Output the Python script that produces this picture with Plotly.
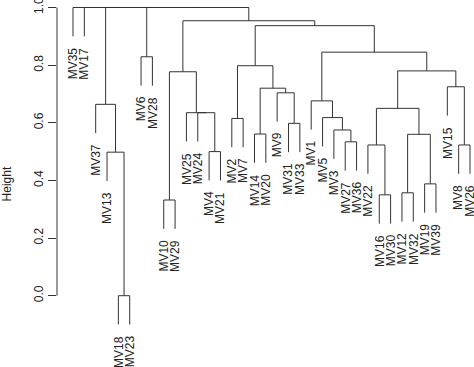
import plotly.graph_objects as go

# Leaf labels in drawing order
labels = ["MV35", "MV17", "MV37", "MV13", "MV18", "MV23", "MV6", "MV28",
          "MV10", "MV29", "MV25", "MV24", "MV4", "MV21", "MV2", "MV7",
          "MV14", "MV20", "MV9", "MV31", "MV33", "MV1", "MV5", "MV3",
          "MV27", "MV36", "MV22", "MV16", "MV30", "MV12", "MV32", "MV19",
          "MV39", "MV15", "MV8", "MV26"]

# Merge table (R hclust style): str = leaf label, int = earlier merge (1-based)
merge_left = ["MV18", "MV10", "MV16", "MV12", "MV19", "MV13", "MV4", "MV8",
              "MV22", "MV27", "MV14", 4, "MV3", "MV31", "MV2", "MV5",
              "MV24", "MV25", 9, "MV37", "MV1", "MV9", 11, "MV15",
              2, 19, 15, "MV6", 21, 27, 25, 28, 20, "MV17", "MV35"]
merge_right = ["MV23", "MV29", "MV30", "MV32", "MV39", 1, "MV21", "MV26",
               3, "MV36", "MV20", 5, 10, "MV33", "MV7", 13,
               7, 17, 12, 6, 16, 14, 22, 8,
               18, 24, 23, "MV28", 26, 29, 30, 31, 32, 33, 34]
merge_height = [0.0, 0.332, 0.35, 0.357, 0.388, 0.498, 0.50, 0.523,
                0.523, 0.534, 0.561, 0.56, 0.575, 0.598, 0.615, 0.618,
                0.635, 0.635, 0.650, 0.664, 0.676, 0.704, 0.72, 0.725,
                0.777, 0.78, 0.798, 0.829, 0.845, 0.937, 0.954, 1.0,
                1.0, 1.0, 1.0]

tick_vals = [0.0, 0.2, 0.4, 0.6, 0.8, 1.0]
tick_text = ["0.0", "0.2", "0.4", "0.6", "0.8", "1.0"]

hang_frac = 0.1
hang = hang_frac * (max(merge_height) - min(merge_height))

leaf_x = {lab: i + 1 for i, lab in enumerate(labels)}
node_x = {}


def pos(ref, parent_h):
    if isinstance(ref, str):
        return leaf_x[ref], parent_h - hang
    return node_x[ref], merge_height[ref - 1]


xs, ys = [], []
leaf_bottom = {}
for k, (a, b, h) in enumerate(zip(merge_left, merge_right, merge_height), start=1):
    xa, ya = pos(a, h)
    xb, yb = pos(b, h)
    for ref, yy in ((a, ya), (b, yb)):
        if isinstance(ref, str):
            leaf_bottom[ref] = yy
    node_x[k] = (xa + xb) / 2
    xs += [xa, xa, xb, xb, None]
    ys += [ya, h, h, yb, None]

line_color = "#333333"
fig = go.Figure()
fig.add_trace(go.Scatter(x=xs, y=ys, mode="lines",
                         line=dict(color=line_color, width=1),
                         hoverinfo="skip", showlegend=False))

font_family = "Liberation Sans, Arial, sans-serif"
for lab in labels:
    fig.add_annotation(x=leaf_x[lab], y=leaf_bottom[lab], text=lab,
                       textangle=-90, xanchor="center", yanchor="top",
                       yshift=-9, showarrow=False,
                       font=dict(family=font_family, size=12, color="#222222"))

fig.add_annotation(x=-0.12, y=0.5, xref="paper", yref="paper", text="Height",
                   textangle=-90, showarrow=False, xanchor="center",
                   yanchor="middle",
                   font=dict(family=font_family, size=12, color="#222222"))

fig.add_shape(type="line", xref="paper", yref="y", x0=0, x1=0,
              y0=min(tick_vals), y1=max(tick_vals),
              line=dict(color=line_color, width=1))

n = len(labels)
fig.update_layout(
    width=474, height=367,
    margin=dict(l=57, r=0, t=0, b=0, autoexpand=False),
    paper_bgcolor="white", plot_bgcolor="white",
    font=dict(family=font_family, size=12, color="#222222"),
    xaxis=dict(visible=False, range=[-0.41, n + 0.352], automargin=False),
    yaxis=dict(range=[-0.2474, 1.026], tickvals=tick_vals, ticktext=tick_text,
               tickangle=-90, ticks="outside", ticklen=8, tickcolor=line_color,
               showgrid=False, zeroline=False, showline=False, automargin=False,
               ticklabeloverflow="allow",
               tickfont=dict(size=12, color="#222222")),
)

fig.write_html("out.html",
               config={"displayModeBar": False, "staticPlot": True},
               post_script="document.body.style.margin='0';"
                           "document.body.style.overflow='hidden';")
